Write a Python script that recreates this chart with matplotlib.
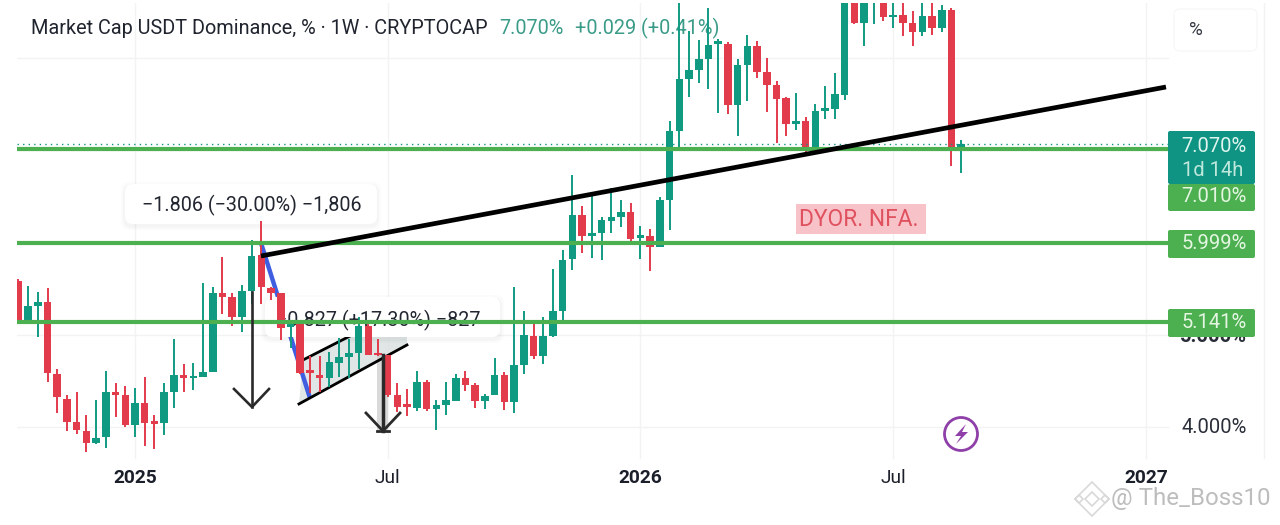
import numpy as np
import matplotlib
matplotlib.use("Agg")
import matplotlib.pyplot as plt
from matplotlib.patches import FancyBboxPatch, Rectangle, Circle, Polygon
from matplotlib.transforms import Affine2D

plt.rcParams["font.family"] = ["Roboto", "DejaVu Sans"]

# weekly candles, first one is 12 weeks before the 2025 tick
opens = [5.58, 5.13, 5.31, 5.36, 4.58, 4.31, 4.06, 3.96, 3.83, 3.89,
         4.37, 4.35, 4.03, 4.26, 4.05, 4.05, 4.38, 4.57, 4.53, 4.54,
         4.60, 5.46, 5.41, 5.19, 5.48, 5.87, 5.51, 5.46, 5.09, 5.16,
         4.60, 4.57, 4.53, 4.70, 4.76, 4.80, 5.10, 4.79, 4.78, 4.35,
         4.23, 4.21, 4.49, 4.20, 4.24, 4.29, 4.53, 4.46, 4.29, 4.35,
         4.57, 4.27, 4.67, 4.99, 4.77, 4.99, 5.26, 5.82, 6.30, 6.07,
         6.11, 6.24, 6.28, 6.33, 6.05, 6.07, 5.95, 6.46, 7.21, 7.77,
         7.87, 7.99, 8.15, 8.15, 7.49, 7.93, 8.13, 7.85, 7.71, 7.57,
         7.29, 7.32, 6.99, 7.43, 7.45, 7.60, 8.70, 8.38, 8.66, 8.70,
         8.44, 8.47, 8.38, 8.28, 8.46, 8.33, 8.52, 7.04]
closes = [5.13, 5.31, 5.36, 4.59, 4.33, 4.06, 3.97, 3.83, 3.88, 4.38,
          4.35, 4.03, 4.26, 4.05, 4.04, 4.38, 4.57, 4.53, 4.55, 4.60,
          5.46, 5.41, 5.19, 5.48, 5.86, 5.52, 5.46, 5.08, 5.16, 4.59,
          4.59, 4.53, 4.71, 4.76, 4.80, 5.10, 4.78, 4.78, 4.35, 4.22,
          4.22, 4.49, 4.20, 4.24, 4.30, 4.53, 4.46, 4.29, 4.34, 4.57,
          4.27, 4.67, 5.00, 4.77, 4.99, 5.26, 5.81, 6.30, 6.07, 6.11,
          6.25, 6.28, 6.33, 6.04, 6.07, 5.95, 6.46, 7.21, 7.77, 7.87,
          7.99, 8.14, 8.16, 7.49, 7.93, 8.13, 7.85, 7.71, 7.56, 7.29,
          7.32, 6.99, 7.43, 7.45, 7.61, 8.70, 8.38, 8.70, 8.70, 8.44,
          8.47, 8.38, 8.28, 8.46, 8.33, 8.52, 6.99, 7.07]
highs = [5.61, 5.53, 5.47, 5.51, 4.63, 4.35, 4.38, 4.13, 4.30, 4.61,
         4.48, 4.45, 4.43, 4.55, 4.13, 4.48, 4.96, 4.69, 4.70, 5.56,
         5.52, 5.85, 5.45, 5.54, 6.03, 6.24, 5.52, 5.46, 5.16, 5.16,
         4.77, 4.77, 4.82, 4.97, 4.96, 5.20, 5.15, 4.96, 4.78, 4.48,
         4.41, 4.61, 4.51, 4.30, 4.49, 4.58, 4.61, 4.48, 4.36, 4.75,
         4.60, 5.52, 5.26, 5.15, 5.19, 5.71, 5.92, 6.73, 6.40, 6.53,
         6.28, 6.59, 6.46, 6.43, 6.18, 6.15, 6.50, 7.32, 8.61, 8.29,
         8.20, 8.54, 8.21, 8.17, 7.99, 8.25, 8.19, 8.00, 7.75, 7.58,
         7.62, 7.36, 7.50, 7.70, 7.84, 8.80, 8.80, 8.80, 8.80, 8.80,
         8.70, 8.70, 8.51, 8.70, 8.70, 8.57, 8.54, 7.11]
lows = [5.12, 5.12, 4.98, 4.49, 4.15, 3.96, 3.93, 3.73, 3.82, 3.78,
        4.11, 4.00, 3.89, 3.80, 3.76, 3.92, 4.21, 4.38, 4.40, 4.54,
        4.60, 5.23, 5.10, 5.03, 5.34, 5.34, 5.38, 4.95, 4.86, 4.58,
        4.37, 4.38, 4.44, 4.55, 4.53, 4.63, 4.78, 4.77, 4.33, 4.17,
        4.12, 4.18, 4.18, 3.97, 4.13, 4.28, 4.39, 4.21, 4.20, 4.35,
        4.19, 4.15, 4.58, 4.74, 4.69, 4.98, 5.13, 5.70, 5.89, 5.83,
        5.81, 6.11, 6.17, 6.02, 5.82, 5.69, 5.95, 6.14, 7.01, 7.58,
        7.73, 7.67, 7.40, 7.39, 7.16, 7.53, 7.78, 7.42, 7.08, 7.16,
        7.22, 6.96, 6.98, 7.34, 7.34, 7.55, 8.37, 8.13, 8.37, 8.40,
        8.33, 8.24, 8.13, 8.24, 8.25, 8.28, 6.83, 6.76]

first_week = -12
date_ticks = [0, 26, 52, 78, 104]
date_labels = ["2025", "Jul", "2026", "Jul", "2027"]
date_bold = [True, False, True, False, True]
price_grid = [4, 5, 6, 7, 8]

levels = [7.010, 5.999, 5.141]
level_labels = ["7.010%", "5.999%", "5.141%"]
last_price = 7.070

trend_x = [12.96, 106.07]
trend_y = [5.856, 7.687]
fall_x = [12.96, 18.0]
fall_y = [5.997, 4.317]
channel_low_x = [16.87, 27.98]
channel_low_y = [4.253, 4.892]
channel_up_x = [17.28, 24.0]
channel_up_y = [4.729, 5.09]

GREEN = "#119a82"
RED = "#e23b4c"
LEVEL = "#4caf50"
TEAL = "#0f9484"

fig = plt.figure(figsize=(12.8, 5.25), dpi=100)
ax = fig.add_axes([0, 0, 1, 1])
# one week is 9.72 px, one percent is 92.3 px
ax.set_xlim(-135 / 9.72, 1145 / 9.72)
ax.set_ylim(8.6295 - 525 / 92.3, 8.6295)
ax.axis("off")

# pixel positions for the tv style overlays
pix = Affine2D().scale(1, -1).translate(0, 525)

for t in date_ticks:
    ax.plot([t, t], [8.6295, 8.6295 - 458 / 92.3], color="#f3f3f3", lw=1, zorder=1)
for p in price_grid:
    ax.plot([-12.14, 106.3], [p, p], color="#f3f3f3", lw=1, zorder=1)

# measure shading + drawings that sit under the candles
ax.add_patch(Polygon([(channel_low_x[0], channel_low_y[0]),
                      (channel_low_x[1], channel_low_y[1]),
                      (channel_low_x[1], 5.29),
                      (channel_up_x[0], channel_up_y[0])],
                     closed=True, facecolor="#d9dfdf", edgecolor="none", alpha=0.8, zorder=2))
ax.add_patch(Rectangle((377, 355), 11, 75, transform=pix, facecolor="#c9c9c9", alpha=0.7, zorder=2))
ax.plot(fall_x, fall_y, color="#3f5fe0", lw=3.2, solid_capstyle="butt", zorder=2.5)
ax.plot(channel_low_x, channel_low_y, color="black", lw=2, zorder=2.6)
ax.plot(channel_up_x, channel_up_y, color="black", lw=2, zorder=2.6)

# tooltip boxes


def tooltip(x0, y0, w, h, z):
    for grow, a in [(4, 0.015), (2, 0.025)]:
        ax.add_patch(FancyBboxPatch((x0 - grow, y0 - grow + 2), w + 2 * grow, h + 2 * grow,
                                    boxstyle="round,pad=0,rounding_size=9", transform=pix,
                                    facecolor="black", edgecolor="none", alpha=a, zorder=z))
    ax.add_patch(FancyBboxPatch((x0, y0), w, h, boxstyle="round,pad=0,rounding_size=8",
                                transform=pix, facecolor="white", edgecolor="none", zorder=z))


tooltip(125, 184, 252, 40, 3)
tooltip(265, 297, 235, 40, 3)
ax.text(252, 205, "\u22121.806 (\u221230.00%) \u22121,806", transform=pix, fontsize=14.2,
        color="#222630", ha="center", va="center", zorder=3.1)
ax.text(378, 320, "\u22120.827 (+17.30%) \u2212827", transform=pix, fontsize=14.2,
        color="#222630", ha="center", va="center", zorder=3.1)

# candles
weeks = np.arange(first_week, first_week + len(opens))
opens_a = np.array(opens)
closes_a = np.array(closes)
colors = [GREEN if c >= o else RED for o, c in zip(opens, closes)]
ax.vlines(weeks, lows, highs, colors=colors, lw=1.4, zorder=4)
ax.bar(weeks, np.maximum(np.abs(closes_a - opens_a), 0.03), bottom=np.minimum(opens_a, closes_a),
       width=0.77, color=colors, zorder=4.1)

# levels, trend line
for lev in levels:
    ax.plot([-12.14, 106.3], [lev, lev], color=LEVEL, lw=3, solid_capstyle="butt", zorder=5)
ax.plot([-12.14, 106.3], [last_price, last_price], color=TEAL, lw=1, ls=(0, (1, 3)), zorder=5)
ax.plot(trend_x, trend_y, color="black", lw=3.4, solid_capstyle="butt", zorder=5.5)

# hand drawn arrows
for xs, ys, lw in [([252, 252], [292, 407], 1.9),
                   ([234, 252, 269], [389, 407, 389], 1.9),
                   ([383, 383], [355, 431], 2.5),
                   ([366, 383, 400], [413, 431, 413], 2.0),
                   ([377, 389], [431, 431], 2.0)]:
    ax.plot(xs, ys, transform=pix, color="#2a2a2a", lw=lw, zorder=6)

# left/top page margin
ax.add_patch(Rectangle((0, 0), 17, 460, transform=pix, facecolor="white", zorder=7))
ax.add_patch(Rectangle((0, 0), 1280, 2.5, transform=pix, facecolor="white", zorder=7))

# header
ax.text(31, 28.5, "Market Cap USDT Dominance, % \u00b7 1W \u00b7 CRYPTOCAP", transform=pix, fontsize=14.3,
        color="#20242e", va="center", zorder=3.5)
ax.text(499, 28.5, "7.070%", transform=pix, fontsize=14.3, color="#3a9c88", va="center", zorder=3.5)
ax.text(575, 28.5, "+0.029 (+0.41%)", transform=pix, fontsize=14.3, color="#3a9c88", va="center", zorder=3.5)

ax.add_patch(Rectangle((796, 204), 130, 30, transform=pix, facecolor="#f8c3c8", zorder=6))
ax.text(859, 219, "DYOR. NFA.", transform=pix, fontsize=16.4, color="#e0515f",
        ha="center", va="center", zorder=6.1)

# price axis side
ax.plot([1264, 1264], [0, 458], transform=pix, color="#f2f2f2", lw=1, zorder=1)
ax.add_patch(FancyBboxPatch((1174, 9), 83, 42, boxstyle="round,pad=0,rounding_size=6", transform=pix,
                            facecolor="white", edgecolor="#f6f6f6", lw=0.8, zorder=2))
ax.text(1196, 30, "%", transform=pix, fontsize=13.5, color="#333842", ha="center", va="center", zorder=3)
ax.text(1247, 336, "5.000%", transform=pix, fontsize=14.5, color="#2a2e39", ha="right", va="center",
        fontweight="bold", zorder=3)
ax.text(1247, 427.5, "4.000%", transform=pix, fontsize=14.5, color="#2a2e39", ha="right", va="center", zorder=3)

ax.add_patch(FancyBboxPatch((1168, 131), 87, 53, boxstyle="round,pad=0,rounding_size=2", transform=pix,
                            facecolor=TEAL, edgecolor="none", zorder=8))
ax.text(1247, 146, "7.070%", transform=pix, fontsize=14.5, color="#dff5ee", ha="right", va="center", zorder=9)
ax.text(1243, 170, "1d 14h", transform=pix, fontsize=14.5, color="#bfe8dc", ha="right", va="center", zorder=9)
for lab, y0, y1 in zip(level_labels, [184, 230, 309], [211, 258, 337]):
    ax.add_patch(FancyBboxPatch((1168, y0), 87, y1 - y0, boxstyle="round,pad=0,rounding_size=2", transform=pix,
                                facecolor=LEVEL, edgecolor="none", zorder=8))
    ax.text(1247, (y0 + y1) / 2 - 0.5, lab, transform=pix, fontsize=14.5, color="#e4f6e2",
            ha="right", va="center", zorder=9)

# date axis
for t, lab, b in zip(date_ticks, date_labels, date_bold):
    ax.text(t, 8.6295 - 478 / 92.3, lab, fontsize=13.8, color="#1b1f2a", ha="center", va="center",
            fontweight="bold" if b else "normal", zorder=3)

# lightning badge
ax.add_patch(Circle((961, 434), 16.5, transform=pix, facecolor="white", edgecolor="#8e3fa8", lw=2, zorder=6))
ax.add_patch(Polygon([(966, 424), (955, 436), (961, 436), (956, 444), (968, 432), (962, 432)],
                     closed=True, transform=pix, facecolor="#8e3fa8", edgecolor="none", zorder=6.1))

# watermark with the little diamond logo
for cx, cy, r in [(1092, 499, 17), (1092, 499, 7), (1079, 499, 4), (1105, 499, 4)]:
    ax.add_patch(Polygon([(cx - r, cy), (cx, cy - r), (cx + r, cy), (cx, cy + r)], closed=True, transform=pix,
                         facecolor="none", edgecolor="#d8d8d8", lw=1.2, zorder=9))
ax.text(1111, 499, "@ The_Boss10", transform=pix, fontsize=17.3, color="#bdbdbd", va="center", zorder=9)

fig.savefig("out.png", dpi=100)
